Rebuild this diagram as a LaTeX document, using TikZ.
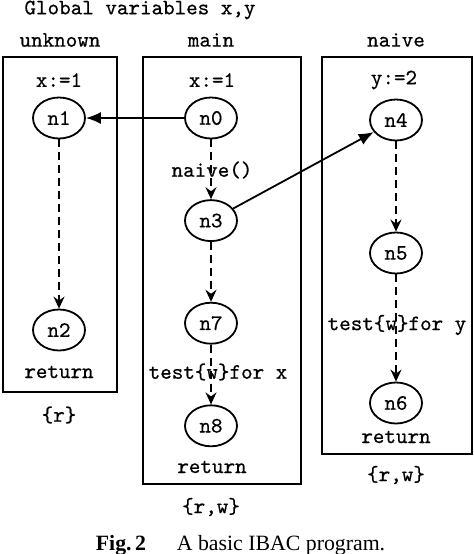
\documentclass[tikz,border=0pt]{standalone}
\usepackage{fontspec}
\setmonofont[FakeBold=0.6]{lmmono10-regular.otf}
\newfontfamily\capfont{Liberation Serif}
\usetikzlibrary{shapes.geometric, arrows.meta}

\begin{document}
\begin{tikzpicture}[
        x = 0.5pt, y = -0.5pt, % one unit per pixel, y going down
        > = {Stealth[length=6pt, width=5.5pt, inset=2pt]}, % arrow head style
        node distance = 51.3pt, % distance between nodes
        line width = 0.9pt % line style
    ]

    \tikzstyle{every node}=[font=\ttfamily\fontsize{11}{13}\selectfont]
    \tikzstyle{block}=[ellipse, draw = black, minimum width = 26pt,
    minimum height = 20.5pt, inner sep = 0pt]
    \tikzstyle{flow}=[->, dash pattern = on 4pt off 2.5pt]
    \tikzstyle{call}=[-{Latex[length=7.5pt, width=6pt]}]

    \useasboundingbox (0,0) rectangle (474,554);

    % procedure boxes
    \draw (3,57) rectangle (117,392);
    \draw (143,57) rectangle (301,484);
    \draw (322,57) rectangle (472,454);

    \node (glob) at (140,10) {Global variables x,y};
    \node (unk) at (60,40) {unknown};
    \node (mn) at (211,40) {main};
    \node (nv) at (396,40) {naive};

    \node (ax) at (59,80) {x:=1};
    \node (mx) at (212,80) {x:=1};
    \node (ny) at (394,80) {y:=2};

    % unknown
    \node (n1) [block] at (59,118) {n1}; \node (n2) [block, below of=n1,
    node distance = 106pt] {n2};

    % main
    \node (n0) [block] at (211,118) {n0}; \node (n3) [block, below of=n0]
    {n3}; \node (n7) [block, below of=n3] {n7}; \node (n8) [block, below
    of=n7] {n8};

    % naive
    \node (n4) [block] at (396,120) {n4}; \node (n5) [block, below of=n4,
    node distance = 66.5pt] {n5}; \node (n6) [block, below of=n5, node
    distance = 75pt] {n6};

    \node (lna) at (212,170) {naive()};
    \node (ltx) at (218,372) {test\{w\}for x};
    \node (lty) at (397,325) {test\{w\}for y};

    \node (r1) at (59,372) {return};
    \node (r2) at (212,467) {return};
    \node (r3) at (396,437) {return};

    \node (s1) at (59,415) {\{r\}};
    \node (s2) at (211,507) {\{r,w\}};
    \node (s3) at (396,475) {\{r,w\}};

    \path[call] (n0) edge (n1); \path[call] (n3) edge (n4);
    \path[flow] (n1) edge (n2); \path[flow] (n0) edge (n3); \path[flow]
    (n3) edge (n7); \path[flow] (n7) edge (n8); \path[flow] (n4) edge (n5);
    \path[flow] (n5) edge (n6);

    \node (fig) at (121,545) {\capfont\fontsize{10.9}{12}\selectfont\bfseries Fig.\,2};
    \node (cap) [anchor=west, inner sep=0pt] at (176,545)
    {\capfont\fontsize{10.9}{12}\selectfont A basic IBAC program.};

\end{tikzpicture}
\end{document}
